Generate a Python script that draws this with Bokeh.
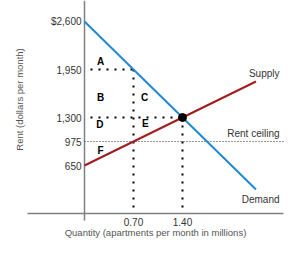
from bokeh.plotting import figure
from bokeh.models import Range1d
from bokeh.core.properties import value
from bokeh.embed import file_html
from bokeh.resources import INLINE

# ---- data ----
demand_q = [0.0, 2.45]
demand_p = [2600, 325]
supply_q = [0.0, 2.45]
supply_p = [650, 1787.5]
eq_q = [1.4]
eq_p = [1300]
ceiling = 975
y_ticks = [2600, 1950, 1300, 975, 650]
y_tick_labels = ["$2,600", "1,950", "1,300", "975", "650"]
x_ticks = [0.70, 1.40]
x_tick_labels = ["0.70", "1.40"]
area_labels = ["A", "B", "C", "D", "E", "F"]
area_q = [0.23, 0.23, 0.86, 0.22, 0.87, 0.23]
area_p = [2060, 1570, 1570, 1200, 1215, 855]

W, H = 302, 259
X0, Y0 = 84, 213          # pixel of origin
SX, SY = 70.0, 48.0 / 650  # px per unit


def qx(px):
    return (px - X0) / SX


def py_(py):
    return (Y0 - py) / SY


p = figure(width=W, height=H, output_backend="svg", toolbar_location=None,
           min_border=0, x_axis_type=None, y_axis_type=None)
p.x_range = Range1d(qx(0), qx(W))
p.y_range = Range1d(py_(H), py_(0))
p.outline_line_color = None
p.grid.visible = False
p.background_fill_color = "white"
p.border_fill_color = "white"

FONT = value("Liberation Sans")
AX = "#808080"

# axes lines
p.line([0, 0], [py_(0), py_(220)], line_color=AX, line_width=1.5)
p.line([qx(27), qx(283)], [0, 0], line_color=AX, line_width=1.5)

# dotted guides
dot = dict(line_color="black", line_width=2, line_dash="2 6")
p.line([qx(90), x_ticks[0]], [1950, 1950], **dot)
p.line([x_ticks[0], x_ticks[0]], [1950, 0], **dot)
p.line([qx(90), x_ticks[1]], [1300, 1300], **dot)
p.line([x_ticks[1], x_ticks[1]], [1300, 0], **dot)
p.line([0, qx(283)], [ceiling, ceiling], line_color="#333333", line_width=1,
       line_dash="1 2")

# curves
p.line(demand_q, demand_p, line_color="#1f8ad0", line_width=2)
p.line(supply_q, supply_p, line_color="#a11d1d", line_width=2)
p.scatter(eq_q, eq_p, size=8, color="black")

# tick labels
p.text([qx(81)] * len(y_ticks), y_ticks, text=y_tick_labels, text_font=FONT,
       text_font_size="10px", text_color="#333333", text_align="right",
       text_baseline="middle")
p.text(x_ticks, [py_(221)] * 2, text=x_tick_labels, text_font=FONT,
       text_font_size="10px", text_color="#333333", text_align="center",
       text_baseline="middle")

# axis titles
p.text([qx(155)], [py_(232)], text=["Quantity (apartments per month in millions)"],
       text_font=FONT, text_font_size="9.5px", text_color="#555555",
       text_align="center", text_baseline="middle")
p.text([qx(19)], [py_(99)], text=["Rent (dollars per month)"], angle=1.5708,
       text_font=FONT, text_font_size="9.5px", text_color="#555555",
       text_align="center", text_baseline="middle")

# area labels
p.text(area_q, area_p, text=area_labels, text_font=FONT, text_font_size="10px",
       text_font_style="bold", text_color="black", text_align="center",
       text_baseline="middle")

# curve labels
p.text([qx(279)] * 3, [py_(73), py_(133), py_(199)],
       text=["Supply", "Rent ceiling", "Demand"], text_font=FONT,
       text_font_size="10px", text_color="#333333", text_align="right",
       text_baseline="middle")

open("out.html", "w").write(file_html(p, INLINE))
